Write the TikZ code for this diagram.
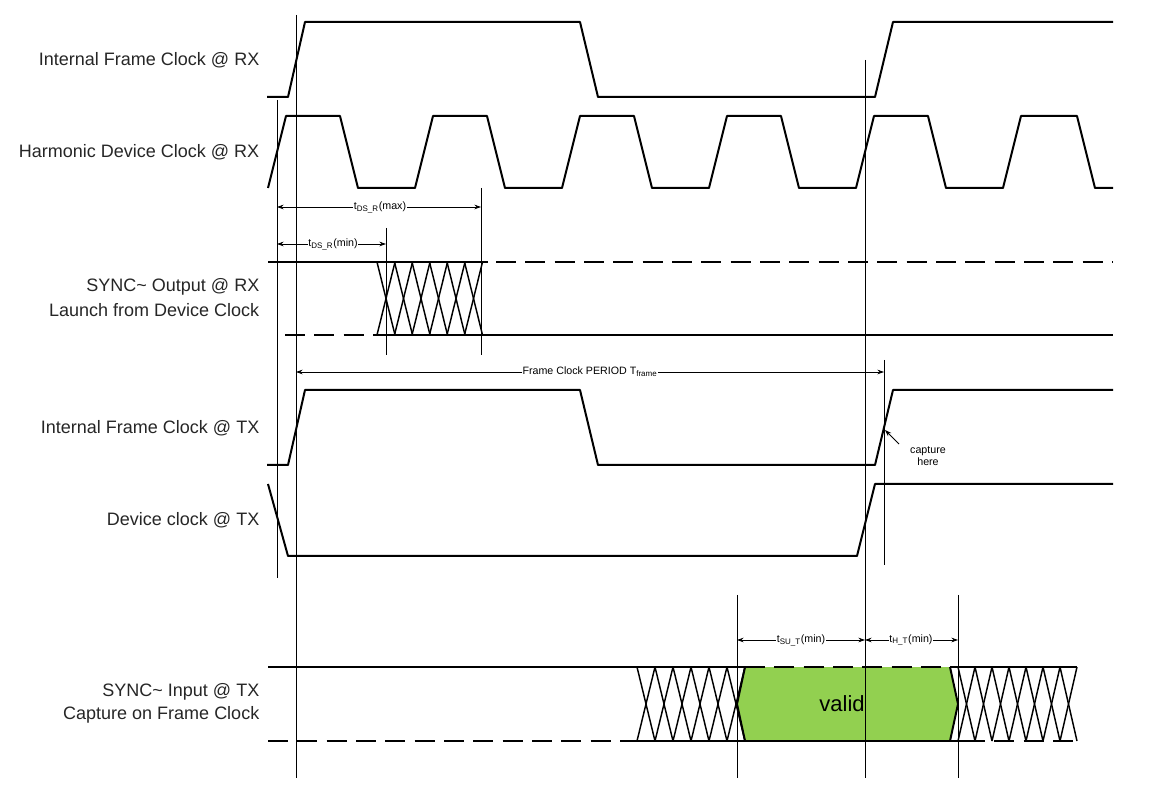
\documentclass[tikz,border=0pt]{standalone}
\usepackage{fontspec}
\setmainfont{Liberation Sans}
\usetikzlibrary{arrows.meta}
\begin{document}
\begin{tikzpicture}[x=0.75pt,y=-0.75pt,
  sig/.style={line width=1.5pt,line join=round},
  dsig/.style={sig,dash pattern=on 15pt off 7pt},
  ref/.style={line width=0.75pt},
  xs/.style={line width=1.1pt},
  dim/.style={line width=0.6pt,{Stealth[length=5pt,width=3.5pt]}-{Stealth[length=5pt,width=3.5pt]}},
  lab/.style={anchor=east,font=\fontsize{13.5}{15}\selectfont,text=black!85},
  sm/.style={font=\fontsize{8}{9}\selectfont,fill=white,inner sep=0.5pt}]
\useasboundingbox (0,0) rectangle (1150,787);
% reference lines
\draw[ref] (277,100) coordinate(a1) -- (277,578) coordinate(a2);
\draw[ref] (296,15) coordinate(b1) -- (296,778) coordinate(b2);
\draw[ref] (386,228) coordinate(c1) -- (386,355) coordinate(c2);
\draw[ref] (481,188) coordinate(d1) -- (481,355) coordinate(d2);
\draw[ref] (865,60) coordinate(e1) -- (865,778) coordinate(e2);
\draw[ref] (884,360) coordinate(f1) -- (884,565) coordinate(f2);
\draw[ref] (737,595) coordinate(g1) -- (737,778) coordinate(g2);
\draw[ref] (958,595) coordinate(h1) -- (958,778) coordinate(h2);
% labels
\node[lab] (l1) at (264,60) {Internal Frame Clock @ RX};
\node[lab] (l2) at (264,152) {Harmonic Device Clock @ RX};
\node[lab] (l3) at (264,287) {SYNC\textasciitilde{} Output @ RX};
\node[lab] (l4) at (264,310) {Launch from Device Clock};
\node[lab] (l5) at (264,428) {Internal Frame Clock @ TX};
\node[lab] (l6) at (264,520) {Device clock @ TX};
\node[lab] (l7) at (264,692) {SYNC\textasciitilde{} Input @ TX};
\node[lab] (l8) at (264,715) {Capture on Frame Clock};
% frame clock RX
\draw[sig] (267,97) -- (288,97) -- (305,22) -- (580,22) -- (598,97) -- (875,97) -- (893,22) -- (1113,22);
% harmonic clock
\draw[sig] (268,188) -- (286,116) -- (340,116)
 \foreach \s in {340,487,634,781,928} { -- (\s,116) -- (\s+18,188) -- (\s+75,188) -- (\s+93,116) }
 -- (1077,116) -- (1095,188) -- (1113,188);
% SYNC RX
\draw[sig] (268,262) -- (488,262);
\draw[dsig] (496,262) -- (1113,262);
\draw[dsig] (285,335) -- (377,335);
\draw[sig] (481,335) -- (1113,335);
\foreach \k in {0,...,5} {
  \draw[xs] (377+17.5*\k,335) -- (395+17.5*\k,262);
  \draw[xs] (377+17.5*\k,262) -- (395+17.5*\k,335);
}
\draw[sig] (377,335) -- (488,335);
% tDS dims
\draw[dim] (277,207) -- (481,207);
\node[sm] (t1) at (380,207) {t\textsubscript{DS\_R}(max)};
\draw[dim] (277,244) -- (386,244);
\node[sm] (t2) at (333,244) {t\textsubscript{DS\_R}(min)};
% period
\draw[dim] (296,372) -- (884,372);
\node[sm] (t3) at (590,372) {Frame Clock PERIOD T\textsubscript{frame}};
% frame clock TX
\draw[sig] (267,465) -- (288,465) -- (305,390) -- (580,390) -- (598,465) -- (875,465) -- (893,390) -- (1113,390);
% device clock TX
\draw[sig] (268,484) -- (288,556) -- (857,556) -- (875,484) -- (1113,484);
% capture here
\node[font=\fontsize{8}{9.5}\selectfont,align=center] (cap) at (928,456) {capture\\here};
\coordinate (cp) at (885,430);
\draw[line width=0.6pt,-{Stealth[length=5pt,width=3.5pt]}] (899,444) -- (cp);
% SYNC input TX
\fill[fill={rgb,255:red,146;green,208;blue,80}] (745,667) -- (950,667) -- (958,704) -- (950,741) -- (745,741) -- (737,704) -- cycle;
\draw[sig] (737,704) -- (745,667) (737,704) -- (745,741) (950,667) -- (958,704) -- (950,741);
\draw[sig] (268,667) -- (745,667);
\draw[dsig] (745,667) -- (950,667);
\draw[sig] (950,667) -- (1077,667);
\draw[dsig] (268,741) -- (637,741);
\draw[sig] (637,741) -- (965,741);
\draw[dsig] (965,741) -- (1077,741);
\foreach \k in {0,...,5} {
  \draw[xs] (637+18*\k,741) -- (655+18*\k,667);
  \draw[xs] (637+18*\k,667) -- (655+18*\k,741);
}
\foreach \k in {0,...,6} {
  \draw[xs] (958+17*\k,741) -- (975+17*\k,667);
  \draw[xs] (958+17*\k,667) -- (975+17*\k,741);
}
\node[font=\fontsize{16.5}{18}\selectfont] (v) at (842,704) {valid};
\draw[ref] (865,595) -- (865,778);
% setup / hold
\draw[dim] (737,640) -- (865,640);
\node[sm] (t4) at (801,640) {t\textsubscript{SU\_T}(min)};
\draw[dim] (865,640) -- (958,640);
\node[sm] (t5) at (911,640) {t\textsubscript{H\_T}(min)};
\end{tikzpicture}
\end{document}
